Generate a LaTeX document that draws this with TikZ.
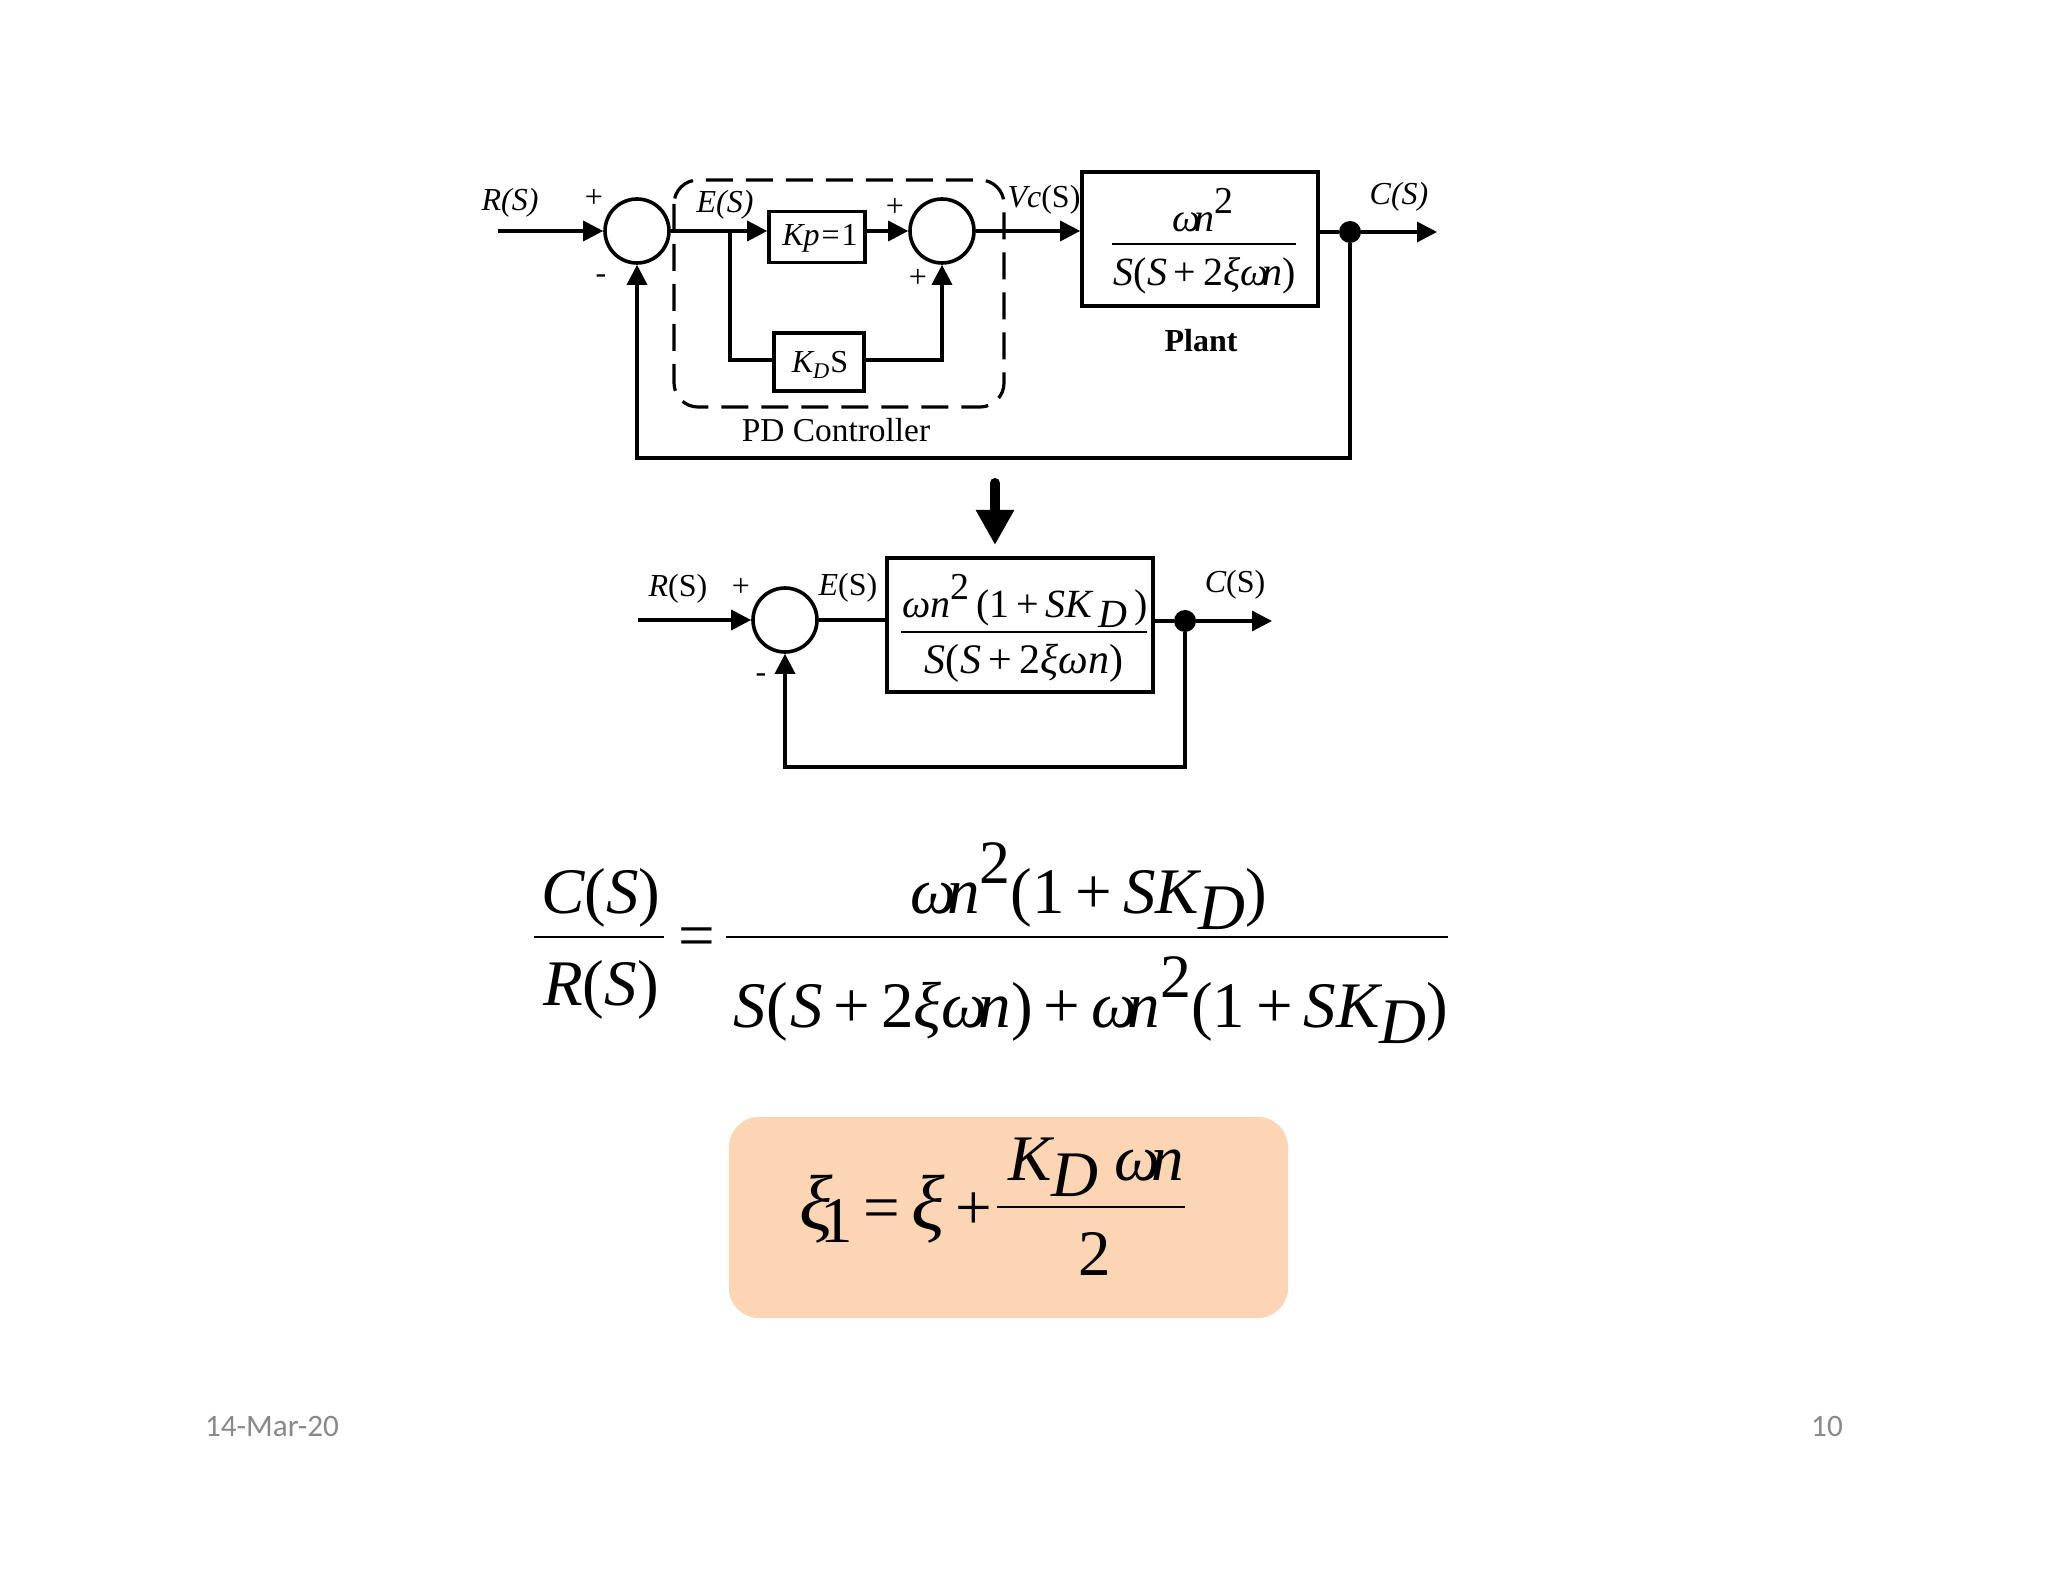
\documentclass[tikz,border=0pt]{standalone}
\usepackage{fontspec}
\setmainfont{Liberation Serif}
\newfontfamily\footfont{Carlito}
\usetikzlibrary{arrows.meta}
\definecolor{boxpeach}{HTML}{FCD5B5}
\definecolor{footgray}{HTML}{898989}
\newcommand{\wn}{{\itshape ω\kern-.14em n}}
\newcommand{\wnplain}{{\itshape ωn}}
\newcommand{\xin}{{\itshape ξ}}
\newcommand{\bigxi}{\scalebox{1.2}{\xin}}
\newcommand{\upii}{\raisebox{.46em}{\scalebox{.95}{2}}}
\newcommand{\lowD}{\raisebox{-.26em}{\itshape D}}
\tikzset{
  wire/.style={line width=1.6pt},
  flow/.style={wire,-{Triangle[length=10pt,width=10pt]}},
  rulel/.style={line width=1pt},
  block/.style={draw,line width=1.8pt,inner sep=0pt},
  sumnode/.style={draw,circle,line width=1.8pt,minimum size=32pt,inner sep=0pt},
  joint/.style={fill,circle,minimum size=11pt,inner sep=0pt},
  lab/.style={font=\fontsize{16}{18}\selectfont,inner sep=0pt},
  formula/.style={font=\fontsize{32.5}{36}\selectfont,inner sep=0pt,anchor=base},
  footer/.style={font=\footfont\fontsize{15.6}{18}\selectfont,text=footgray,inner sep=0pt}
}
\begin{document}
\begin{tikzpicture}[x=0.5pt,y=-0.5pt]
\useasboundingbox (0,0) rectangle (2048,1582);
\node[sumnode] (sumA) at (637,231) {};
\node[sumnode] (sumB) at (942,231) {};
\node[block,minimum width=48pt,minimum height=25.5pt] (kp) at (817,237) {};
\node[lab] (kpt) at (820,238) {{\itshape Kp}\kern.06em=\kern.06em 1};
\node[block,minimum width=45pt,minimum height=29pt] (kd) at (819,362) {};
\node[lab] (kdt) at (820,365) {{\itshape K\textsubscript{D}}S};
\node[block,minimum width=118pt,minimum height=67pt] (plant) at (1200,239) {};
\node[joint] (dotA) at (1350,232) {};
\coordinate (inA) at (498,231);
\coordinate (outA) at (1437,232);
\coordinate (branch) at (730,231);
\coordinate (kdin) at (730,360);
\coordinate (kdout) at (942,360);
\coordinate (fbAr) at (1350,458);
\coordinate (fbAl) at (637,458);
\draw[flow] (inA) -- (sumA.west);
\draw[flow] (sumA.east) -- (sumA.east-|kp.west);
\draw[flow] (kp.east|-sumB.west) -- (sumB.west);
\draw[flow] (sumB.east) -- (sumB.east-|plant.west);
\draw[wire] (plant.east|-dotA) -- (dotA);
\draw[flow] (dotA) -- (outA);
\draw[wire] (branch) -- (kdin) -- (kd.west|-kdin);
\draw[flow] (kd.east|-kdout) -- (kdout) -- (sumB.south);
\draw[flow] (dotA) -- (fbAr) -- (fbAl) -- (sumA.south);
\draw[wire,dash pattern=on 13.5pt off 6.5pt,rounded corners=12pt] (674,180) rectangle (1004,407);
\node[lab] (rA) at (510,203) {\itshape R(S)};
\node[lab] (eA) at (725,205) {\itshape E(S)};
\node[lab] (vc) at (1044,200) {{\itshape Vc}(S)};
\node[lab] (cA) at (1399,197) {\itshape C(S)};
\node[lab] (pA) at (594,198) {+};
\node[lab] (mA) at (601,279) {-};
\node[lab] (pB) at (895,207) {+};
\node[lab] (pC) at (918,278) {+};
\node[lab,font=\fontsize{16.7}{18}\selectfont] (pd) at (836,430) {PD Controller};
\node[lab] (plantt) at (1201,341) {\bfseries Plant};
\node[lab,font=\fontsize{20}{22}\selectfont] (planttop) at (1203,210) {\wn\upii};
\node[lab,font=\fontsize{20}{22}\selectfont] (plantbot) at (1205,276) {{\itshape S}({\itshape S}\,+\,2\xin\wn)};
\coordinate (ruleAl) at (1112,244);
\coordinate (ruleAr) at (1296,244);
\draw[rulel] (ruleAl) -- (ruleAr);
\coordinate (downT) at (995,483);
\coordinate (downB) at (995,545);
\draw[-{Triangle[length=17.5pt,width=18pt]},line width=5pt,line cap=round] (downT) -- (downB);
\node[sumnode] (sumC) at (785,620) {};
\node[block,minimum width=133pt,minimum height=67pt] (loop) at (1020,625) {};
\node[joint] (dotB) at (1185,621) {};
\coordinate (inB) at (638,620);
\coordinate (outB) at (1272,621);
\coordinate (fbBr) at (1185,767);
\coordinate (fbBl) at (785,767);
\draw[flow] (inB) -- (sumC.west);
\draw[wire] (sumC.east) -- (sumC.east-|loop.west);
\draw[wire] (loop.east|-dotB) -- (dotB);
\draw[flow] (dotB) -- (outB);
\draw[flow] (dotB) -- (fbBr) -- (fbBl) -- (sumC.south);
\node[lab] (rB) at (678,589) {{\itshape R}(S)};
\node[lab] (pD) at (741,587) {+};
\node[lab] (mB) at (761,678) {-};
\node[lab] (eB) at (848,588) {{\itshape E}(S)};
\node[lab] (cB) at (1235,585) {{\itshape C}(S)};
\node[lab,font=\fontsize{20}{24}\selectfont] (looptop) at (1025,601) {\wnplain\upii\,(1\,+\,{\itshape SK}\,\lowD\,)};
\node[lab,font=\fontsize{21}{24}\selectfont] (loopbot) at (1024,663) {{\itshape S}(\kern.03em{\itshape S}\,+\,2\xin\wnplain)};
\coordinate (ruleBl) at (901,632);
\coordinate (ruleBr) at (1147,632);
\draw[rulel] (ruleBl) -- (ruleBr);
\node[formula] (cr) at (601,913) {{\itshape C}({\itshape S})};
\node[formula] (rr) at (601,1005) {{\itshape R}({\itshape S})};
\coordinate (ruleCl) at (534,937);
\coordinate (ruleCr) at (664,937);
\draw[rulel] (ruleCl) -- (ruleCr);
\node[formula] (eq) at (697,957) {=};
\coordinate (ruleDl) at (726,937);
\coordinate (ruleDr) at (1448,937);
\draw[rulel] (ruleDl) -- (ruleDr);
\node[formula] (bigtop) at (1089,913) {\wn\upii(1\,+\,{\itshape SK}\lowD)};
\node[formula] (bigbot) at (1091,1027) {{\itshape S}(\kern.04em{\itshape S}\,+\,2\xin\wn)\,+\,\wn\upii(1\,+\,{\itshape SK}\lowD)};
\fill[boxpeach,rounded corners=15pt] (729,1117) rectangle (1288,1318);
\node[formula] (xileft) at (896,1229) {\bigxi\kern-.2em\raisebox{-.2em}{1}\,=\,\bigxi\,+};
\node[formula] (kdtop) at (1096,1180) {{\itshape K}\lowD\ \wn};
\node[formula] (two) at (1095,1275) {2};
\coordinate (ruleEl) at (997,1207);
\coordinate (ruleEr) at (1185,1207);
\draw[rulel] (ruleEl) -- (ruleEr);
\node[footer] (datef) at (272,1426) {14-Mar-20};
\node[footer] (pagef) at (1827,1426) {10};
\end{tikzpicture}
\end{document}
